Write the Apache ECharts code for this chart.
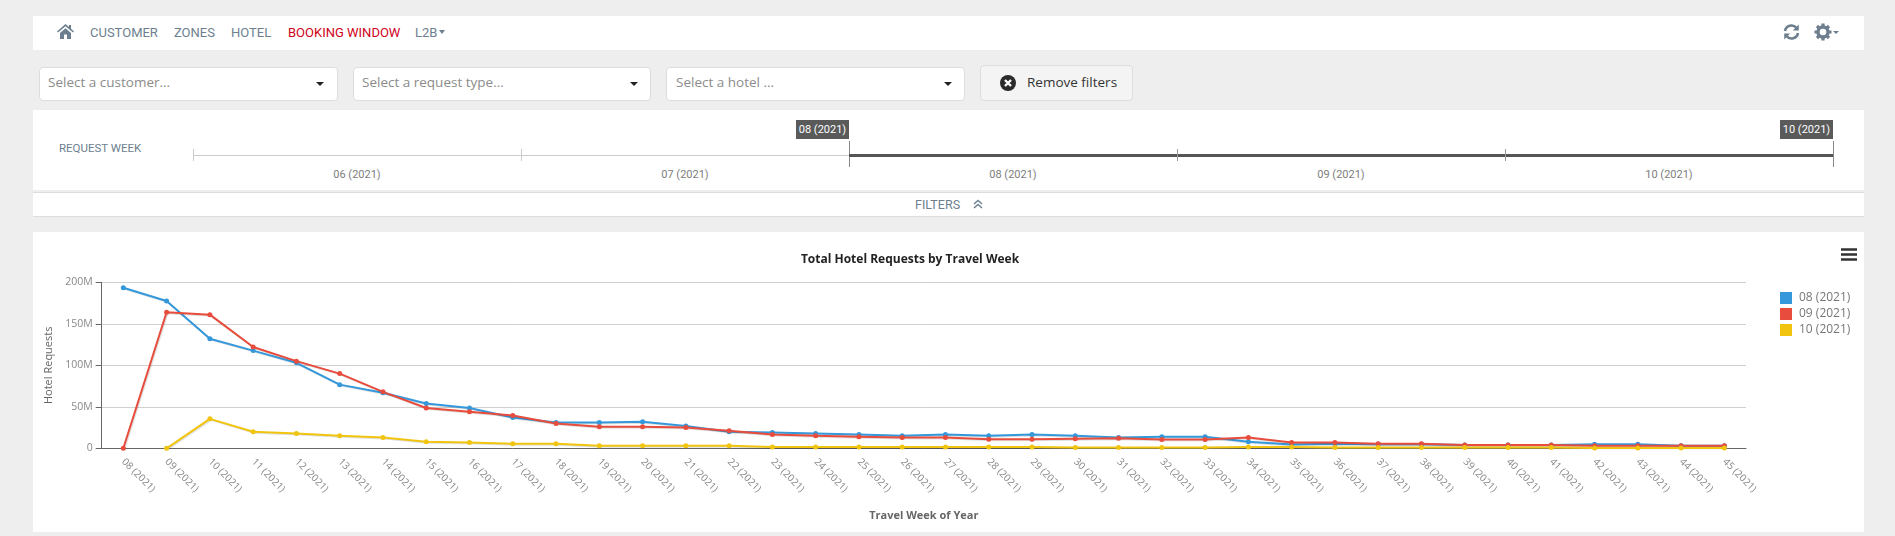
<!DOCTYPE html>
<html>
<head>
<meta charset="utf-8">
<title>Total Hotel Requests by Travel Week</title>
<script src="https://cdn.jsdelivr.net/npm/echarts@6/dist/echarts.min.js"></script>
<style>
  html, body { margin: 0; padding: 0; background: #eeeeee; width: 1895px; height: 536px; overflow: hidden; }
  .box { position: absolute; background: #fff; box-sizing: border-box; }
  .t { position: absolute; white-space: nowrap; font-family: Roboto, sans-serif; line-height: 1; }
  .nav { font-size: 13px; color: #6d7f8f; top: 26px; }
  .sel { top: 67px; height: 34px; border: 1px solid #ddd; border-radius: 4px; }
  .ph { font-family: "Open Sans", sans-serif; font-size: 13.5px; color: #8b8b8b; top: 76px; }
  .caret { position: absolute; width: 0; height: 0; border-left: 4px solid transparent; border-right: 4px solid transparent; border-top: 4px solid #222; }
  .rule { position: absolute; background: #ccc; }
  .wk { font-size: 11px; color: #7d7d7d; top: 169px; width: 80px; text-align: center; }
  .badge { position: absolute; top: 120px; width: 53px; height: 19px; background: #5a5a5a; color: #fff; font: 11px/19px Roboto, sans-serif; text-align: center; }
  svg { position: absolute; }
  #chart { position: absolute; left: 33px; top: 232px; width: 1831px; height: 300px; }
</style>
</head>
<body>
<!-- top nav -->
<div class="box" style="left:33px;top:16px;width:1831px;height:34px"></div>
<svg style="left:57px;top:24px" width="17" height="15" viewBox="0 0 17 15"><path fill="#6d7f8f" d="M8.5 0 L12 3 V1 H14 V4.8 L17 7.6 L16 8.6 L8.5 2.2 L1 8.6 L0 7.6 Z M3 9 L8.5 4.3 L14 9 V15 H10 V10.5 H7 V15 H3 Z"/></svg>
<div class="t nav" style="left:90px">CUSTOMER</div>
<div class="t nav" style="left:174px">ZONES</div>
<div class="t nav" style="left:231px">HOTEL</div>
<div class="t nav" style="left:288px;color:#d0021b">BOOKING WINDOW</div>
<div class="t nav" style="left:415px">L2B</div>
<div class="caret" style="left:439px;top:30px;border-top-color:#6d7f8f;border-left-width:3.5px;border-right-width:3.5px"></div>
<svg style="left:1783px;top:24px" width="17" height="16" viewBox="0 0 17 16"><g fill="none" stroke="#6d7f8f" stroke-width="2.6"><path d="M2 7 A6.5 6.5 0 0 1 13.5 4"/><path d="M15 9 A6.5 6.5 0 0 1 3.5 12"/></g><path fill="#6d7f8f" d="M15.8 0.5 V6.5 H9.8 Z M1.2 15.5 V9.5 H7.2 Z"/></svg>
<svg style="left:1814px;top:23px" width="18" height="18" viewBox="0 0 18 18"><circle cx="9" cy="9" r="5" fill="none" stroke="#6d7f8f" stroke-width="3.4"/><g stroke="#6d7f8f" stroke-width="3.2"><path d="M9 0.5 V4 M9 14 V17.5 M0.5 9 H4 M14 9 H17.5 M3 3 L5.4 5.4 M12.6 12.6 L15 15 M15 3 L12.6 5.4 M5.4 12.6 L3 15"/></g></svg>
<div class="caret" style="left:1833px;top:31px;border-top-color:#6d7f8f;border-left-width:3.5px;border-right-width:3.5px;border-top-width:3px"></div>

<!-- filter row -->
<div class="box sel" style="left:39px;width:299px"></div>
<div class="t ph" style="left:48px">Select a customer...</div>
<div class="caret" style="left:316px;top:82px"></div>
<div class="box sel" style="left:353px;width:298px"></div>
<div class="t ph" style="left:362px">Select a request type...</div>
<div class="caret" style="left:630px;top:82px"></div>
<div class="box sel" style="left:666px;width:299px"></div>
<div class="t ph" style="left:676px">Select a hotel ...</div>
<div class="caret" style="left:944px;top:82px"></div>
<div class="box sel" style="left:980px;top:65px;width:153px;height:36px;background:#f4f4f4"></div>
<svg style="left:1000px;top:75px" width="16" height="16" viewBox="0 0 16 16"><circle cx="8" cy="8" r="8" fill="#2b2b2b"/><path d="M5 5 L11 11 M11 5 L5 11" stroke="#fff" stroke-width="2.4"/></svg>
<div class="t" style="left:1027px;top:76px;font-family:'Open Sans',sans-serif;font-size:13.5px;color:#333">Remove filters</div>

<!-- request week slider -->
<div class="box" style="left:33px;top:110px;width:1831px;height:80px"></div>
<div class="t" style="left:59px;top:143px;font-size:11.5px;color:#6d7f8f">REQUEST WEEK</div>
<div class="rule" style="left:193px;top:155px;width:656px;height:1px"></div>
<div class="rule" style="left:193px;top:149px;width:1px;height:12px"></div>
<div class="rule" style="left:521px;top:149px;width:1px;height:12px"></div>
<div class="rule" style="left:849px;top:141px;width:1px;height:26px;background:#888"></div>
<div class="rule" style="left:849px;top:154px;width:984px;height:3px;background:#555"></div>
<div class="rule" style="left:1177px;top:149px;width:1px;height:12px;background:#999"></div>
<div class="rule" style="left:1505px;top:149px;width:1px;height:12px;background:#999"></div>
<div class="rule" style="left:1833px;top:141px;width:1px;height:26px;background:#888"></div>
<div class="badge" style="left:796px">08 (2021)</div>
<div class="badge" style="left:1780px">10 (2021)</div>
<div class="t wk" style="left:317px">06 (2021)</div>
<div class="t wk" style="left:645px">07 (2021)</div>
<div class="t wk" style="left:973px">08 (2021)</div>
<div class="t wk" style="left:1301px">09 (2021)</div>
<div class="t wk" style="left:1629px">10 (2021)</div>

<!-- filters bar -->
<div class="box" style="left:33px;top:192px;width:1831px;height:25px;border-top:1px solid #ddd;border-bottom:1px solid #ddd"></div>
<div class="t" style="left:915px;top:199px;font-size:12.5px;color:#6d7f8f">FILTERS</div>
<svg style="left:973px;top:199px" width="10" height="10" viewBox="0 0 10 10"><path d="M1 5 L5 1.5 L9 5 M1 9 L5 5.5 L9 9" fill="none" stroke="#6d7f8f" stroke-width="1.4"/></svg>

<!-- chart card -->
<div class="box" style="left:33px;top:232px;width:1831px;height:300px"></div>
<div id="chart"></div>
<svg style="left:1841px;top:248px" width="16" height="13" viewBox="0 0 16 13"><path d="M0 1.5 H16 M0 6.5 H16 M0 11.5 H16" stroke="#333" stroke-width="2.6"/></svg>

<script>
const weeks = ['08', '09', '10', '11', '12', '13', '14', '15', '16', '17', '18', '19', '20',
  '21', '22', '23', '24', '25', '26', '27', '28', '29', '30', '31', '32', '33', '34', '35',
  '36', '37', '38', '39', '40', '41', '42', '43', '44', '45'];
const categories = weeks.map(w => w + ' (2021)');

// values in millions
const week08 = [193.5, 177.5, 132, 117.7, 103, 76.7, 67, 54, 48.6, 37, 31, 31, 32,
  27, 20, 19, 17.7, 16.5, 15, 16.5, 15, 16.5, 15, 13, 14, 14, 8, 4.5,
  5.5, 5, 5, 4, 4, 4, 5, 5, 3, 3];
const week09 = [0, 164, 161, 122, 105, 90, 68, 48.6, 44, 39.5, 30, 26, 26,
  25, 21, 16.5, 15, 14, 13, 13, 11, 11, 11.5, 12, 10.5, 10.5, 13, 7,
  7, 5.5, 5.5, 4, 4, 4, 3, 3, 3, 3];
const week10 = [null, 0, 35.5, 20, 17.7, 15, 13, 8, 7, 5.5, 5.5, 3, 3,
  3, 3, 1.5, 1.5, 1.5, 1.5, 1.5, 1.5, 1.5, 1, 1, 1, 1, 1.5, 1.5,
  1, 1, 1, 1, 1, 1, 0.5, 0.5, 0.5, 0.5];

const chart = echarts.init(document.getElementById('chart'));
const font = '"Open Sans", sans-serif';

const lineSeries = (name, data, color) => ({
  name,
  type: 'line',
  data,
  symbol: 'circle',
  symbolSize: 5,
  showAllSymbol: true,
  connectNulls: false,
  itemStyle: { color },
  lineStyle: { color, width: 2, shadowColor: 'rgba(0,0,0,0.12)', shadowOffsetX: 1, shadowOffsetY: 1 },
});

chart.setOption({
  animation: false,
  title: {
    text: 'Total Hotel Requests by Travel Week',
    left: 872,
    top: 17,
    textAlign: 'center',
    textStyle: { fontFamily: font, fontSize: 12, fontWeight: 'bold', color: '#222' },
  },
  legend: {
    orient: 'vertical',
    left: 1742,
    top: 55,
    itemWidth: 12,
    itemHeight: 12,
    itemGap: 4,
    icon: 'rect',
    textStyle: { fontFamily: font, fontSize: 12, color: '#777', padding: [0, 0, 0, 2] },
  },
  grid: { left: 68.7, right: 118, top: 50.3, bottom: 83.7 },
  xAxis: {
    type: 'category',
    data: categories,
    boundaryGap: true,
    name: 'Travel Week of Year',
    nameLocation: 'middle',
    nameGap: 62,
    nameTextStyle: { fontFamily: font, fontSize: 11, fontWeight: 'bold', color: '#666' },
    axisLine: { lineStyle: { color: '#666' } },
    axisTick: { length: 6, lineStyle: { color: '#666' } },
    axisLabel: { interval: 0, rotate: -45, margin: 12, fontFamily: font, fontSize: 10, color: '#888' },
    splitLine: { show: false },
  },
  yAxis: {
    type: 'value',
    min: 0,
    max: 200,
    interval: 50,
    name: 'Hotel Requests',
    nameLocation: 'middle',
    nameGap: 46,
    nameTextStyle: { fontFamily: font, fontSize: 11, color: '#666' },
    axisLine: { show: true, lineStyle: { color: '#666' } },
    axisTick: { show: true, length: 6, lineStyle: { color: '#666' } },
    axisLabel: { margin: 9, fontFamily: font, fontSize: 10.5, color: '#888', formatter: v => (v === 0 ? '0' : v + 'M') },
    splitLine: { lineStyle: { color: '#d0d0d0' } },
  },
  series: [
    lineSeries('08 (2021)', week08, '#3498db'),
    lineSeries('09 (2021)', week09, '#e74c3c'),
    lineSeries('10 (2021)', week10, '#f1c40f'),
  ],
});
</script>
</body>
</html>
